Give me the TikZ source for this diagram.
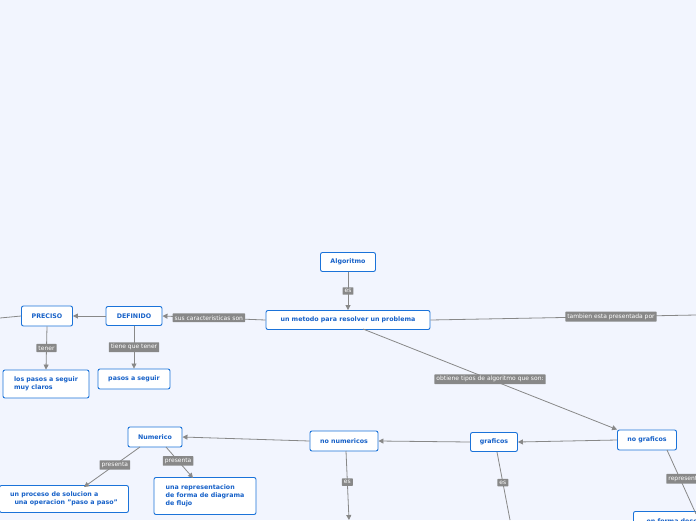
\documentclass[tikz,border=0pt]{standalone}
\usepackage{fontspec}
\setmainfont{DejaVu Sans}
\usetikzlibrary{arrows.meta}
\definecolor{bg}{HTML}{F2F5FE}
\definecolor{bl}{HTML}{1B73D9}
\definecolor{tx}{HTML}{1560C8}
\definecolor{lg}{HTML}{888888}
\tikzset{
 box/.style={draw=bl,fill=white,rounded corners=2pt,line width=0.9pt,text=tx,font=\bfseries\fontsize{6.3}{8}\selectfont,inner xsep=4pt,inner ysep=3pt,align=left},
 lbl/.style={fill=lg,text=white,font=\fontsize{6}{7}\selectfont,inner sep=2pt,rounded corners=0.5pt},
 con/.style={draw=lg,line width=0.8pt},
 arr/.style={con,-{Triangle[length=5pt,width=5pt]}}
}
\begin{document}
\begin{tikzpicture}[x=1pt,y=-1pt]
\useasboundingbox[fill=bg] (0,0) rectangle (696,520);
\clip (0,0) rectangle (696,520);
\node[box,minimum width=55pt,minimum height=19pt] (alg) at (348,262) {Algoritmo};
\node[box,minimum width=164pt,minimum height=19pt] (met) at (348,320) {un metodo para resolver un problema};
\node[box,minimum width=56pt,minimum height=19pt] (def) at (134,316) {DEFINIDO};
\node[box,minimum width=51pt,minimum height=20pt] (pre) at (47,316) {PRECISO};
\node[box,minimum width=86pt,minimum height=28pt] (lps) at (46,384) {los pasos a seguir\\muy claros};
\node[box,minimum width=72pt,minimum height=20pt] (pas) at (134,379) {pasos a seguir};
\node[box,minimum width=54pt,minimum height=20pt] (num) at (155,437) {Numerico};
\node[box,minimum width=68pt,minimum height=20pt] (nnum) at (344,441) {no numericos};
\node[box,minimum width=47pt,minimum height=19pt] (gra) at (494,442) {graficos};
\node[box,minimum width=59pt,minimum height=20pt] (ngra) at (647,440) {no graficos};
\node[box,minimum width=129pt,minimum height=27pt] (pro) at (64,499) {un proceso de solucion a\\\ \ una operacion "paso a paso"};
\node[box,minimum width=102pt,minimum height=37pt] (rep) at (205,496) {una representacion\\de forma de diagrama\\de flujo};
\node[box,minimum width=100pt,minimum height=20pt,anchor=north west] (des) at (633,511) {en forma descriptiva};
\coordinate (eL) at (0,318);
\coordinate (eR) at (696,315);
\coordinate (b1) at (349,520);
\coordinate (b2) at (510,520);
\draw[arr] (alg) -- node[lbl]{es} (met);
\draw[arr] (met.west) -- node[lbl,pos=0.55]{sus caracteristicas son} (def.east);
\draw[arr] (def.west) -- (pre.east);
\draw[con] (pre.west) -- (eL);
\draw[arr] (pre.south) -- node[lbl]{tener} (lps.north);
\draw[arr] (def.south) -- node[lbl]{tiene que tener} (pas.north);
\draw[con] (met.east) -- node[lbl,pos=0.68]{tambien esta presentada por} (eR);
\draw[arr] (363,329) -- node[lbl,pos=0.5]{obtiene tipos de algoritmo que son:} (ngra.north west);
\draw[arr] (ngra.west) -- (gra.east);
\draw[arr] (gra.west) -- (nnum.east);
\draw[arr] (nnum.west) -- (num.east);
\draw[arr] (140,447) -- node[lbl,pos=0.45]{presenta} (84,487);
\draw[arr] (166,447) -- node[lbl,pos=0.45]{presenta} (193,478);
\draw[arr] (346,451) -- node[lbl,pos=0.45]{es} (b1);
\draw[con] (497,452) -- node[lbl,pos=0.45]{es} (b2);
\draw[con] (667,450) -- node[lbl,pos=0.45,anchor=west,xshift=-14pt]{representada} (696,514);
\end{tikzpicture}
\end{document}
